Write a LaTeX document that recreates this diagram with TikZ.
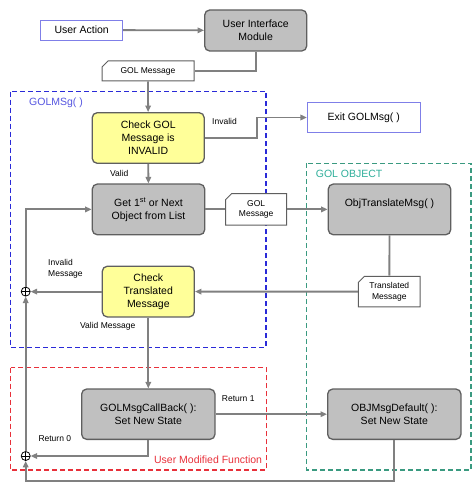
\documentclass[tikz,border=0pt]{standalone}
\usepackage{fontspec}
\setmainfont{Liberation Sans}
\usetikzlibrary{arrows.meta,shapes.misc}

\definecolor{caixacinza}{HTML}{C0C0C0}
\definecolor{caixaamarela}{HTML}{FFFF99}
\definecolor{bordacinza}{HTML}{5F5F5F}
\definecolor{linhacinza}{HTML}{808080}
\definecolor{azulgol}{HTML}{2A2AD8}
\definecolor{verdegol}{HTML}{3A9A80}
\definecolor{vermelhogol}{HTML}{E8303A}

\tikzset{
    texto/.style={font=\fontsize{10.5}{13}\selectfont, align=center, inner sep=0pt},
    rotulo/.style={font=\fontsize{8.5}{10.5}\selectfont, align=left, inner sep=0pt},
    processo/.style={texto, draw=bordacinza, line width=1.3pt, rounded corners=5pt, fill=caixacinza},
    teste/.style={processo, fill=caixaamarela},
    terminal/.style={texto, draw=azulgol!60!white, line width=0.9pt, fill=white},
    mensagem/.style={rotulo, align=center, draw=bordacinza, line width=1pt, fill=white,
        chamfered rectangle, chamfered rectangle corners=north west,
        chamfered rectangle sep=3pt},
    soma/.style={circle, draw=black, line width=0.8pt, minimum size=9pt, inner sep=0pt, fill=white,
        path picture={\draw[line width=0.8pt] (path picture bounding box.north) -- (path picture bounding box.south)
            (path picture bounding box.west) -- (path picture bounding box.east);}},
    fluxo/.style={draw=linhacinza, line width=1.8pt, -{Triangle[length=6.5pt,width=5.5pt]}},
    liga/.style={draw=linhacinza, line width=1.8pt},
    moldura/.style={line width=1.3pt, dash pattern=on 5pt off 3pt}
}

\begin{document}
\begin{tikzpicture}[x=1pt, y=-1pt]
    \useasboundingbox (0,0) rectangle (474,502);

    % Molduras tracejadas
    \draw[moldura, azulgol] (10.7,91.7) rectangle (266,347.3);
    \draw[moldura, verdegol] (306.7,163.3) rectangle (471,470);
    \draw[moldura, vermelhogol] (10.7,367.7) rectangle (266.7,470);
    \node[texto, anchor=west, text=azulgol!80!white] (rotgolmsg) at (29,103) {GOLMSg( )};
    \node[texto, anchor=west, text=verdegol!80!cyan] (rotgolobj) at (315.7,174) {GOL OBJECT};
    \node[texto, anchor=east, text=vermelhogol] (rotuser) at (262.3,460) {User Modified Function};

    % Caixas do fluxo
    \node[terminal, minimum width=82pt, minimum height=20pt] (acao) at (81.7,30) {User Action};
    \node[processo, minimum width=102pt, minimum height=41pt] (uim) at (255.7,30.5) {User Interface\\Module};
    \node[mensagem, minimum width=92pt, minimum height=20pt] (msg) at (148,71) {GOL Message};
    \node[teste, minimum width=112pt, minimum height=50.6pt] (checkgol) at (148.2,138) {Check GOL\\Message is\\INVALID};
    \node[terminal, minimum width=112.7pt, minimum height=30.4pt] (saida) at (363.7,117.5) {Exit GOLMsg( )};
    \node[processo, minimum width=112.4pt, minimum height=50.7pt] (getobj) at (148.5,209.4) {Get 1\textsuperscript{st} or Next\\Object from List};
    \node[mensagem, minimum width=61pt, minimum height=31.7pt] (msgobj) at (256.2,209.4) {GOL\\Message};
    \node[processo, minimum width=122.4pt, minimum height=50.7pt] (objtrans) at (389.5,209.4) {ObjTranslateMsg( )\\\vphantom{X}};
    \node[mensagem, minimum width=61.7pt, minimum height=30.7pt] (msgtrad) at (389.3,291.6) {Translated\\Message};
    \node[teste, minimum width=92pt, minimum height=50.7pt] (checktr) at (148.3,291.6) {Check\\Translated\\Message};
    \node[processo, minimum width=133.3pt, minimum height=50.3pt] (callback) at (148.3,414.2) {GOLMsgCallBack( ):\\Set New State};
    \node[processo, minimum width=133.3pt, minimum height=50.3pt] (objdef) at (394.3,414.2) {OBJMsgDefault( ):\\Set New State};
    \node[soma] (soma1) at (25.7,291.6) {};
    \node[soma] (soma2) at (25.7,456) {};
    \coordinate (fundodir) at (394.3,480.7);
    \coordinate (fundoesq) at (25.7,480.7);

    % Ligações
    \draw[fluxo] (acao) -- (uim);
    \draw[liga] (uim.south) |- (msg.east);
    \draw[fluxo] (msg) -- (checkgol);
    \draw[fluxo] (checkgol.east) -- ++(52.5,0) |- (saida.west);
    \draw[fluxo] (checkgol) -- (getobj);
    \draw[liga] (getobj.east) -- (msgobj.west);
    \draw[fluxo] (msgobj.east) -- (objtrans.west);
    \draw[liga] (objtrans) -- (msgtrad);
    \draw[fluxo] (msgtrad) -- (checktr);
    \draw[fluxo] (checktr) -- (soma1);
    \draw[fluxo] (soma1.north) |- (getobj.west);
    \draw[fluxo] (checktr) -- (callback);
    \draw[fluxo] (callback) -- (objdef);
    \draw[fluxo] (callback.south) |- (soma2.east);
    \draw[fluxo] (objdef.south) -- (fundodir) -- (fundoesq) -- (soma2.south);
    \draw[fluxo] (soma2) -- (soma1);

    % Rótulos das ligações
    \node[rotulo, anchor=west] (rotinv) at (212,121.7) {Invalid};
    \node[rotulo, anchor=west] (rotval) at (110,173.3) {Valid};
    \node[rotulo, anchor=west] (rotinvmsg) at (48,269) {Invalid\\Message};
    \node[rotulo, anchor=west] (rotvalmsg) at (80,326) {Valid Message};
    \node[rotulo, anchor=west] (rotret1) at (221.7,398.3) {Return 1};
    \node[rotulo, anchor=west] (rotret0) at (38.3,439) {Return 0};

\end{tikzpicture}
\end{document}
